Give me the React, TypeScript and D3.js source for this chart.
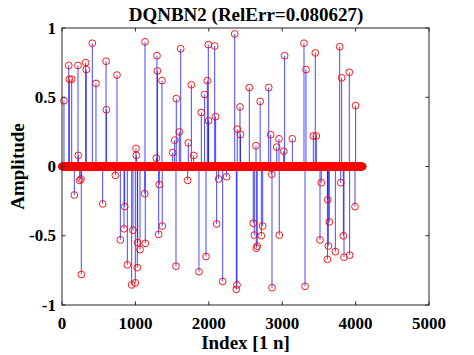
import React from "react";
import * as d3 from "d3";

const N = 4096;
const spikeIndex = [
  27, 92, 100, 132, 218, 222, 322, 331, 413, 463, 600, 604, 749, 1008, 1012, 1131, 1285, 1294, 1300, 1362,
  1508, 1535, 1557, 1598, 1617, 1721, 1762, 1794, 1898, 1943, 1980, 1993, 1997, 2080, 2093, 2353, 2388, 2425,
  2432, 2552, 2643, 2700, 2816, 2843, 2925, 2956, 3020, 3033, 3138, 3297, 3324, 3424, 3451, 3465, 3783, 3810,
  3914, 4000,
  168, 241, 259, 263, 554, 727, 795, 845, 854, 890, 949, 967, 999, 1026, 1031, 1063, 1127, 1135, 1325, 1317,
  1366, 1553, 1712, 1866, 1962, 2107, 2134, 2189, 2243, 2384, 2375, 2606, 2620, 2647, 2660, 2716, 2734, 2857,
  2861, 2960, 3311, 3515, 3533, 3620, 3642, 3629, 3616, 3724, 3797, 3833, 3842, 3919, 3992,
];
const spikeValue = [
  0.475, 0.73, 0.63, 0.63, 0.73, 0.08, 0.75, 0.7, 0.89, 0.6, 0.76, 0.41, 0.66, 0.13, 0.08, 0.9, 0.06, 0.8, 0.69, 0.62,
  0.1, 0.19, 0.49, 0.25, 0.85, 0.17, 0.59, 0.08, 0.39, 0.52, 0.62, 0.88, 0.33, 0.87, 0.36, 0.957, 0.27, 0.43,
  0.23, 0.57, 0.15, 0.47, 0.57, 0.23, 0.14, 0.2, 0.11, 0.8, 0.2, 0.89, 0.7, 0.22, 0.82, 0.22, 0.865, 0.64,
  0.68, 0.44,
  -0.206, -0.1, -0.09, -0.78, -0.27, -0.064, -0.53, -0.45, -0.29, -0.71, -0.855, -0.46, -0.84, -0.73, -0.55, -0.6, -0.196, -0.555, -0.13, -0.49,
  -0.43, -0.72, -0.1, -0.76, -0.65, -0.415, -0.09, -0.83, -0.074, -0.855, -0.887, -0.41, -0.495, -0.59, -0.575, -0.5, -0.43, -0.056,
  -0.875, -0.495, -0.865, -0.53, -0.117, -0.24, -0.4, -0.574, -0.67, -0.615, -0.117, -0.5, -0.655, -0.64, -0.29,
];
const xTicks = [0, 1000, 2000, 3000, 4000, 5000];
const yTicks = [-1, -0.5, 0, 0.5, 1];
const yTickLabels = ["-1", "-0.5", "0", "0.5", "1"];
const title = "DQNBN2 (RelErr=0.080627)";
const xLabel = "Index [1 n]";
const yLabel = "Amplitude";

const signal: number[] = new Array(N).fill(0);
spikeIndex.forEach((n, i) => {
  signal[n] = spikeValue[i];
});

export default function App() {
  const W = 474, H = 355;
  const L = 62, R = 429, T = 28, B = 305;
  const x = d3.scaleLinear().domain([0, 5000]).range([L, R]);
  const y = d3.scaleLinear().domain([-1, 1]).range([B, T]);
  const font = "'Liberation Serif', 'Times New Roman', serif";
  const axisColor = "#262626";
  const tickLen = 3.5;
  const zeros = signal.map((v, n) => ({ n, v })).filter((d) => d.v === 0);
  const spikes = signal.map((v, n) => ({ n, v })).filter((d) => d.v !== 0);
  return (
    <svg width={W} height={H} style={{ position: "fixed", left: 0, top: 0, background: "#fff" }}>
      <rect x={0} y={0} width={W} height={H} fill="#fff" />
      {/* stems */}
      <g stroke="#0000ff" strokeWidth={1} strokeOpacity={0.72}>
        {spikes.map((d) => (
          <line key={"s" + d.n} x1={x(d.n)} x2={x(d.n)} y1={y(0)} y2={y(d.v)} />
        ))}
      </g>
      {/* markers */}
      <g fill="none" stroke="#ff0000" strokeWidth={0.9}>
        {zeros.map((d) => (
          <circle key={"z" + d.n} cx={x(d.n)} cy={y(d.v)} r={3.4} />
        ))}
        {spikes.map((d) => (
          <circle key={"c" + d.n} cx={x(d.n)} cy={y(d.v)} r={3.4} />
        ))}
      </g>
      {/* axes box */}
      <rect x={L} y={T} width={R - L} height={B - T} fill="none" stroke={axisColor} strokeWidth={1} />
      <g stroke={axisColor} strokeWidth={1}>
        {xTicks.map((t) => (
          <g key={"xt" + t}>
            <line x1={x(t)} x2={x(t)} y1={B} y2={B - tickLen} />
            <line x1={x(t)} x2={x(t)} y1={T} y2={T + tickLen} />
          </g>
        ))}
        {yTicks.map((t) => (
          <g key={"yt" + t}>
            <line x1={L} x2={L + tickLen} y1={y(t)} y2={y(t)} />
            <line x1={R} x2={R - tickLen} y1={y(t)} y2={y(t)} />
          </g>
        ))}
      </g>
      <g fontFamily={font} fontWeight="bold" fontSize={17} fill="#000">
        {xTicks.map((t) => (
          <text key={"xl" + t} x={x(t)} y={B + 18} textAnchor="middle" dominantBaseline="central">
            {t}
          </text>
        ))}
        {yTicks.map((t, i) => (
          <text key={"yl" + t} x={L - 6} y={y(t)} textAnchor="end" dominantBaseline="central">
            {yTickLabels[i]}
          </text>
        ))}
      </g>
      <text x={(L + R) / 2 + 0.5} y={14} textAnchor="middle" dominantBaseline="central" fontFamily={font} fontWeight="bold" fontSize={19}>
        {title}
      </text>
      <text x={(L + R) / 2} y={342} textAnchor="middle" dominantBaseline="central" fontFamily={font} fontWeight="bold" fontSize={19}>
        {xLabel}
      </text>
      <text
        transform={`translate(17,${(T + B) / 2}) rotate(-90)`}
        textAnchor="middle"
        dominantBaseline="central"
        fontFamily={font}
        fontWeight="bold"
        fontSize={19}
      >
        {yLabel}
      </text>
    </svg>
  );
}
